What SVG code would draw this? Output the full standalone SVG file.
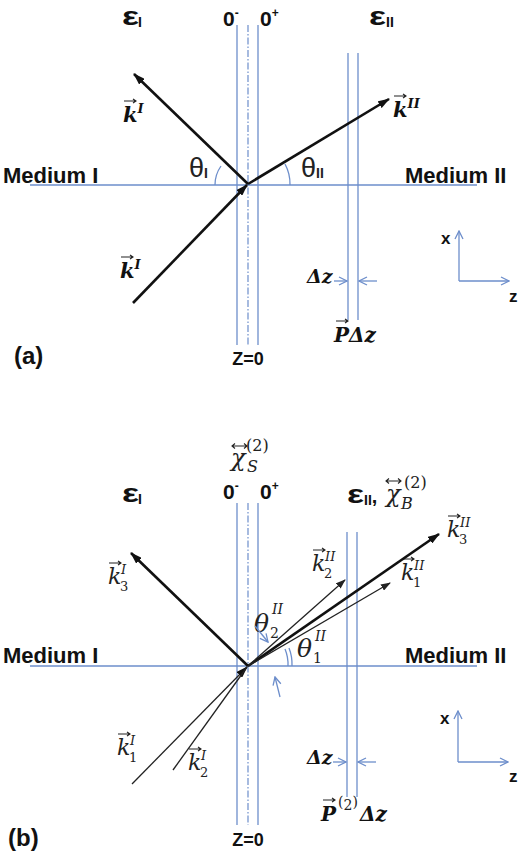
<svg xmlns="http://www.w3.org/2000/svg" xmlns:xlink="http://www.w3.org/1999/xlink" width="520" height="852" viewBox="0 0 520 852">
<style>
.bg{fill:#fff}
.bl{stroke:#6d8ecb;stroke-width:1.3;fill:none}
.dd{stroke:#6d8ecb;stroke-width:1.2;fill:none;stroke-dasharray:7 2 1.5 2}
.thick{stroke:#111;stroke-width:2.6;fill:none}
.thin{stroke:#222;stroke-width:1.3;fill:none}
.lbl{font-family:"Liberation Sans",Arial,sans-serif;font-weight:bold;fill:#111}
.th{font-family:"Liberation Sans",Arial,sans-serif;fill:#222}
.m{font-family:"DejaVu Serif","Liberation Serif",serif;font-style:italic;fill:#222}
.n{font-style:normal}
.mb{font-weight:bold;fill:#111}
.va{stroke:#222;stroke-width:1.1;fill:none}
</style>
<defs>
<marker id="ah" viewBox="0 0 12 8" refX="11" refY="4" markerWidth="12" markerHeight="8" markerUnits="userSpaceOnUse" orient="auto"><path d="M0,0 L12,4 L0,8 z" fill="#111"/></marker>
<marker id="ahs" viewBox="0 0 10 7" refX="9" refY="3.5" markerWidth="10" markerHeight="7" markerUnits="userSpaceOnUse" orient="auto"><path d="M0,0 L10,3.5 L0,7 z" fill="#222"/></marker>
<marker id="bh" viewBox="0 0 10 10" refX="9" refY="5" markerWidth="10" markerHeight="10" markerUnits="userSpaceOnUse" orient="auto"><path d="M1,1 L9,5 L1,9" fill="none" stroke="#6d8ecb" stroke-width="1.3"/></marker>
<path id="vec" class="va" d="M0,0 h12 M9,-2 l3,2 l-3,2"/>
<path id="dvec" class="va" d="M0,0 h15 M3,-2.5 l-3,2.5 l3,2.5 M12,-2.5 l3,2.5 l-3,2.5"/>
</defs>
<rect class="bg" x="0" y="0" width="520" height="852"/>

<!-- ===== (a) ===== -->
<g id="a-structure">
<line class="bl" x1="237" y1="25" x2="237" y2="345"/>
<line class="dd" x1="248" y1="25" x2="248" y2="345"/>
<line class="bl" x1="258" y1="25" x2="258" y2="345"/>
<line class="bl" x1="348" y1="53" x2="348" y2="320"/>
<line class="bl" x1="358" y1="53" x2="358" y2="320"/>
<line class="bl" x1="30" y1="185" x2="477" y2="185"/>
<path class="bl" d="M215,185 A33,33 0 0 1 221,166"/>
<path class="bl" d="M290,185 A42,42 0 0 0 285,164"/>
</g>
<g id="a-labels">
<text class="lbl" x="122" y="25" font-size="26" textLength="17" lengthAdjust="spacingAndGlyphs">ε</text>
<text class="lbl" x="138" y="27" font-size="14">I</text>
<text class="lbl" x="223" y="26" font-size="21">0<tspan font-size="12" dy="-9">-</tspan></text>
<text class="lbl" x="260" y="26" font-size="21">0<tspan font-size="12" dy="-9">+</tspan></text>
<text class="lbl" x="369" y="25" font-size="26" textLength="17" lengthAdjust="spacingAndGlyphs">ε</text>
<text class="lbl" x="386" y="27" font-size="14">II</text>
<text class="lbl" x="3" y="183" font-size="22">Medium I</text>
<text class="lbl" x="405" y="183" font-size="22">Medium II</text>
<text class="th" x="189" y="177" font-size="27">θ<tspan font-size="14" dy="1" font-weight="bold">I</tspan></text>
<text class="th" x="301" y="177" font-size="27">θ<tspan font-size="14" dy="1" font-weight="bold">II</tspan></text>
<text class="lbl" x="248" y="365" font-size="18" text-anchor="middle">Z=0</text>
<text class="lbl" x="14" y="364" font-size="24">(a)</text>
</g>
<g id="a-vectors">
<text class="m mb" x="123" y="122" font-size="21">k<tspan font-size="13" dy="-9">I</tspan></text>
<use xlink:href="#vec" x="124" y="101"/>
<text class="m mb" x="393" y="117" font-size="21">k<tspan font-size="13" dy="-9">II</tspan></text>
<use xlink:href="#vec" x="394" y="96"/>
<text class="m mb" x="120" y="278" font-size="21">k<tspan font-size="13" dy="-9">I</tspan></text>
<use xlink:href="#vec" x="121" y="257"/>
<text class="m mb" x="307" y="283" font-size="19">Δz</text>
<text class="m mb" x="334" y="342" font-size="20">PΔz</text>
<use xlink:href="#vec" x="336" y="321"/>
</g>
<g id="a-axes">
<line class="bl" x1="459" y1="281" x2="459" y2="231" marker-end="url(#bh)"/>
<line class="bl" x1="459" y1="281" x2="509" y2="281" marker-end="url(#bh)"/>
<text class="lbl" x="441" y="244" font-size="17">x</text>
<text class="lbl" x="509" y="302" font-size="17">z</text>
</g>
<g id="a-connectors">
<line class="thick" x1="248" y1="184" x2="134" y2="74" marker-end="url(#ah)"/>
<line class="thick" x1="248" y1="184" x2="389" y2="99" marker-end="url(#ah)"/>
<line class="thick" x1="133" y1="303" x2="247" y2="185" marker-end="url(#ah)"/>
<line class="bl" x1="334" y1="281" x2="347" y2="281" marker-end="url(#bh)"/>
<line class="bl" x1="377" y1="281" x2="359" y2="281" marker-end="url(#bh)"/>
</g>

<!-- ===== (b) ===== -->
<g id="b-structure">
<line class="bl" x1="237" y1="503" x2="237" y2="825"/>
<line class="dd" x1="248" y1="503" x2="248" y2="825"/>
<line class="bl" x1="258" y1="503" x2="258" y2="825"/>
<line class="bl" x1="347" y1="532" x2="347" y2="797"/>
<line class="bl" x1="357" y1="532" x2="357" y2="797"/>
<line class="bl" x1="30" y1="666" x2="477" y2="666"/>
<path class="bl" d="M288,666 A40,40 0 0 0 285,649"/>
<path class="bl" d="M292,666 A44,44 0 0 0 289,648"/>
</g>
<g id="b-labels">
<text class="m" x="231" y="466" font-size="24">χ</text>
<use xlink:href="#dvec" x="232" y="446"/>
<text class="m" x="247" y="472" font-size="16">S</text>
<text class="m n" x="246" y="451" font-size="16">(2)</text>
<text class="lbl" x="122" y="502" font-size="26" textLength="17" lengthAdjust="spacingAndGlyphs">ε</text>
<text class="lbl" x="138" y="504" font-size="14">I</text>
<text class="lbl" x="223" y="499" font-size="21">0<tspan font-size="12" dy="-9">-</tspan></text>
<text class="lbl" x="260" y="499" font-size="21">0<tspan font-size="12" dy="-9">+</tspan></text>
<text class="lbl" x="347" y="503" font-size="26" textLength="17" lengthAdjust="spacingAndGlyphs">ε</text>
<text class="lbl" x="364" y="505" font-size="14">II<tspan font-size="20" dy="-2">,</tspan></text>
<text class="m" x="386" y="502" font-size="24">χ</text>
<use xlink:href="#dvec" x="386" y="481"/>
<text class="m" x="401" y="509" font-size="16">B</text>
<text class="m n" x="404" y="488" font-size="16">(2)</text>
<text class="lbl" x="3" y="663" font-size="22">Medium I</text>
<text class="lbl" x="405" y="663" font-size="22">Medium II</text>
<text class="lbl" x="248" y="846" font-size="18" text-anchor="middle">Z=0</text>
<text class="lbl" x="8" y="846" font-size="24">(b)</text>
<text class="m" x="254" y="632" font-size="25">θ</text>
<text class="m" x="272" y="614" font-size="14">II</text>
<text class="m n" x="270" y="638" font-size="14">2</text>
<text class="m" x="297" y="657" font-size="25">θ</text>
<text class="m" x="315" y="641" font-size="14">II</text>
<text class="m n" x="313" y="663" font-size="14">1</text>
</g>
<g id="b-vectors">
<text class="m" x="108" y="584" font-size="22">k</text><use xlink:href="#vec" x="109" y="563"/>
<text class="m" x="121" y="574" font-size="13">I</text><text class="m n" x="120" y="591" font-size="13">3</text>
<text class="m" x="447" y="537" font-size="22">k</text><use xlink:href="#vec" x="448" y="516"/>
<text class="m" x="460" y="527" font-size="13">II</text><text class="m n" x="459" y="544" font-size="13">3</text>
<text class="m" x="312" y="571" font-size="22">k</text><use xlink:href="#vec" x="313" y="550"/>
<text class="m" x="325" y="561" font-size="13">II</text><text class="m n" x="324" y="578" font-size="13">2</text>
<text class="m" x="401" y="580" font-size="22">k</text><use xlink:href="#vec" x="402" y="559"/>
<text class="m" x="414" y="570" font-size="13">II</text><text class="m n" x="413" y="587" font-size="13">1</text>
<text class="m" x="117" y="755" font-size="22">k</text><use xlink:href="#vec" x="118" y="734"/>
<text class="m" x="130" y="745" font-size="13">I</text><text class="m n" x="129" y="762" font-size="13">1</text>
<text class="m" x="188" y="770" font-size="22">k</text><use xlink:href="#vec" x="189" y="749"/>
<text class="m" x="201" y="760" font-size="13">I</text><text class="m n" x="200" y="777" font-size="13">2</text>
<text class="m mb" x="307" y="764" font-size="19">Δz</text>
<text class="m mb" x="321" y="821" font-size="20">P</text><use xlink:href="#vec" x="323" y="800"/>
<text class="m n" x="338" y="807" font-size="14">(<tspan dy="3">2</tspan><tspan dy="-3">)</tspan></text>
<text class="m mb" x="360" y="821" font-size="20">Δz</text>
</g>
<g id="b-axes">
<line class="bl" x1="458" y1="762" x2="458" y2="711" marker-end="url(#bh)"/>
<line class="bl" x1="458" y1="762" x2="508" y2="762" marker-end="url(#bh)"/>
<text class="lbl" x="440" y="724" font-size="17">x</text>
<text class="lbl" x="509" y="782" font-size="17">z</text>
</g>
<g id="b-connectors">
<line class="thick" x1="248" y1="666" x2="131" y2="553" marker-end="url(#ah)"/>
<line class="thick" x1="248" y1="666" x2="439" y2="534" marker-end="url(#ah)"/>
<line class="thin" x1="248" y1="666" x2="345" y2="580" marker-end="url(#ahs)"/>
<line class="thin" x1="248" y1="666" x2="390" y2="583" marker-end="url(#ahs)"/>
<line class="thin" x1="132" y1="784" x2="247" y2="667" marker-end="url(#ah)"/>
<line class="thin" x1="173" y1="770" x2="247" y2="667"/>
<line class="bl" x1="255" y1="626" x2="268" y2="642" marker-end="url(#bh)"/>
<line class="bl" x1="280" y1="697" x2="275" y2="677" marker-end="url(#bh)"/>
<line class="bl" x1="333" y1="762" x2="346" y2="762" marker-end="url(#bh)"/>
<line class="bl" x1="376" y1="762" x2="358" y2="762" marker-end="url(#bh)"/>
</g>
</svg>
